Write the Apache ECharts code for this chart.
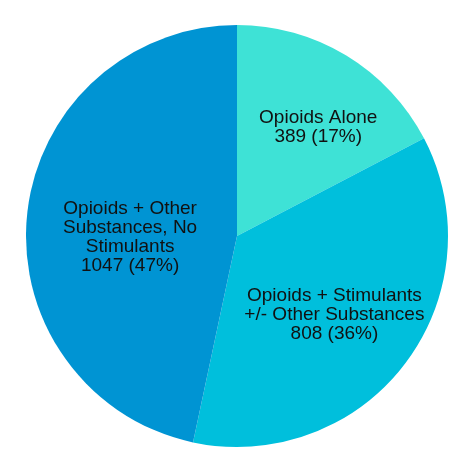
<!DOCTYPE html>
<html>
<head>
<meta charset="utf-8">
<script src="https://cdn.jsdelivr.net/npm/echarts@6/dist/echarts.min.js"></script>
<style>
html,body{margin:0;padding:0;background:#fff;}
#chart{width:474px;height:474px;}
</style>
</head>
<body>
<div id="chart"></div>
<script>
const categories = ['Opioids Alone', 'Opioids + Stimulants\n+/- Other Substances', 'Opioids + Other\nSubstances, No\nStimulants'];
const values = [389, 808, 1047];
const colors = ['#3ee2d6', '#00bfdc', '#0094d3'];
const labelOffsets = [[25, -16], [11, 13], [1, 13]];

const total = values.reduce((a, b) => a + b, 0);
const chart = echarts.init(document.getElementById('chart'), null, {renderer: 'canvas'});
chart.setOption({
  animation: false,
  series: [{
    type: 'pie',
    center: ['50%', '49.8%'],
    radius: 211,
    startAngle: 90,
    clockwise: true,
    silent: true,
    label: {
      show: true,
      position: 'inside',
      color: '#111',
      fontFamily: 'Liberation Sans, Arial, sans-serif',
      fontSize: 19,
      lineHeight: 19,
      align: 'center',
      formatter: p => p.name + '\n' + p.value + ' (' + Math.round(p.value / total * 100) + '%)'
    },
    labelLine: {show: false},
    itemStyle: {borderWidth: 0},
    data: categories.map((c, i) => ({
      name: c,
      value: values[i],
      itemStyle: {color: colors[i]},
      label: {offset: labelOffsets[i]}
    }))
  }]
});
</script>
</body>
</html>
